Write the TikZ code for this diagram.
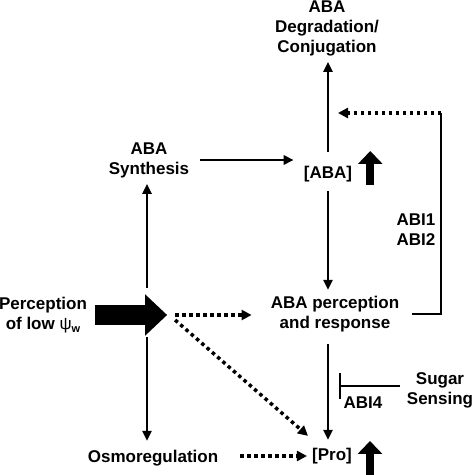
\documentclass[tikz,border=0pt]{standalone}
\usepackage{fontspec}
\setmainfont{Liberation Sans}
\usetikzlibrary{arrows.meta}

\begin{document}
\begin{tikzpicture}[x=1pt, y=1pt,
        lbl/.style={align=center, inner sep=0pt, font=\fontsize{17}{20}\selectfont\bfseries},
        arr/.style={line width=2.7pt, -{Triangle[length=10pt,width=9pt]}},
        dotarr/.style={line width=3.5pt, dash pattern=on 3.5pt off 3.5pt, -{Triangle[length=10pt,width=10pt]}},
        upind/.style={line width=8pt, -{Triangle[length=13pt,width=24pt]}}]
        \useasboundingbox (0,0) rectangle (474,475);

        % Pools and processes
        \node[lbl] (degr) at (327, 447) {ABA\\Degradation/\\Conjugation};
        \node[lbl] (synth) at (149, 315) {ABA\\Synthesis};
        \node[lbl] (aba) at (328, 301) {[ABA]};
        \node[lbl] (percep) at (43, 160) {Perception\\of low {\mdseries ψ}\raisebox{-0.35ex}{\fontsize{11}{11}\selectfont w}};
        \node[lbl] (resp) at (335, 161) {ABA perception\\and response};
        \node[lbl] (osmo) at (153, 17) {Osmoregulation};
        \node[lbl] (pro) at (332, 19) {[Pro]};
        \node[lbl] (sugar) at (440, 85) {Sugar\\Sensing};
        \node[lbl, align=right] (abi12) at (416, 245) {ABI1\\ABI2};
        \node[lbl] (abi4) at (363, 72) {ABI4};
        \coordinate (fb) at (441, 362);

        % ABA turnover
        \draw[arr] ([yshift=14pt]aba.north) -- ([yshift=-6pt]aba.north |- degr.south);
        \draw[arr] ([xshift=11pt]synth.east) -- ([xshift=-10pt]aba.west |- synth.east);
        \draw[arr] ([yshift=-9pt]aba.south) -- ([yshift=6pt]aba.south |- resp.north);
        \draw[upind] ([xshift=18pt, yshift=-11pt]aba.east) -- ++(0, 34);

        % ABI1/ABI2 feedback
        \draw[line width=2.7pt] ([xshift=13pt]resp.east) -| (fb);
        \draw[dotarr] (fb) -- ([xshift=10pt]aba.north |- fb);

        % Perception of low water potential
        \draw[line width=20pt, -{Triangle[length=22pt,width=40pt]}] ([xshift=8pt]percep.east) -- ++(72, 0) coordinate (tip);
        \draw[arr] (147, 187) -- ([yshift=-6pt]147, 0 |- synth.south);
        \draw[arr] (147, 138) -- ([yshift=9pt]147, 0 |- osmo.north);
        \draw[dotarr] ([xshift=8pt]tip) -- ([xshift=-19pt]resp.west |- tip);
        \draw[dotarr] ([xshift=8pt, yshift=-5pt]tip) -- ([xshift=-24pt, yshift=12pt]pro.north);

        % Proline accumulation
        \draw[arr] ([yshift=-12pt]aba.south |- resp.south) -- ([yshift=8pt]aba.south |- pro.north);
        \draw[line width=2.7pt, -{Bar[width=26pt]}] ([xshift=-7pt, yshift=4pt]sugar.west) -- ++(-61, 0);
        \draw[dotarr] ([xshift=22pt]osmo.east |- pro) -- ([xshift=-5pt]pro.west);
        \draw[upind] (370, 0) -- (370, 34);
    \end{tikzpicture}
\end{document}
